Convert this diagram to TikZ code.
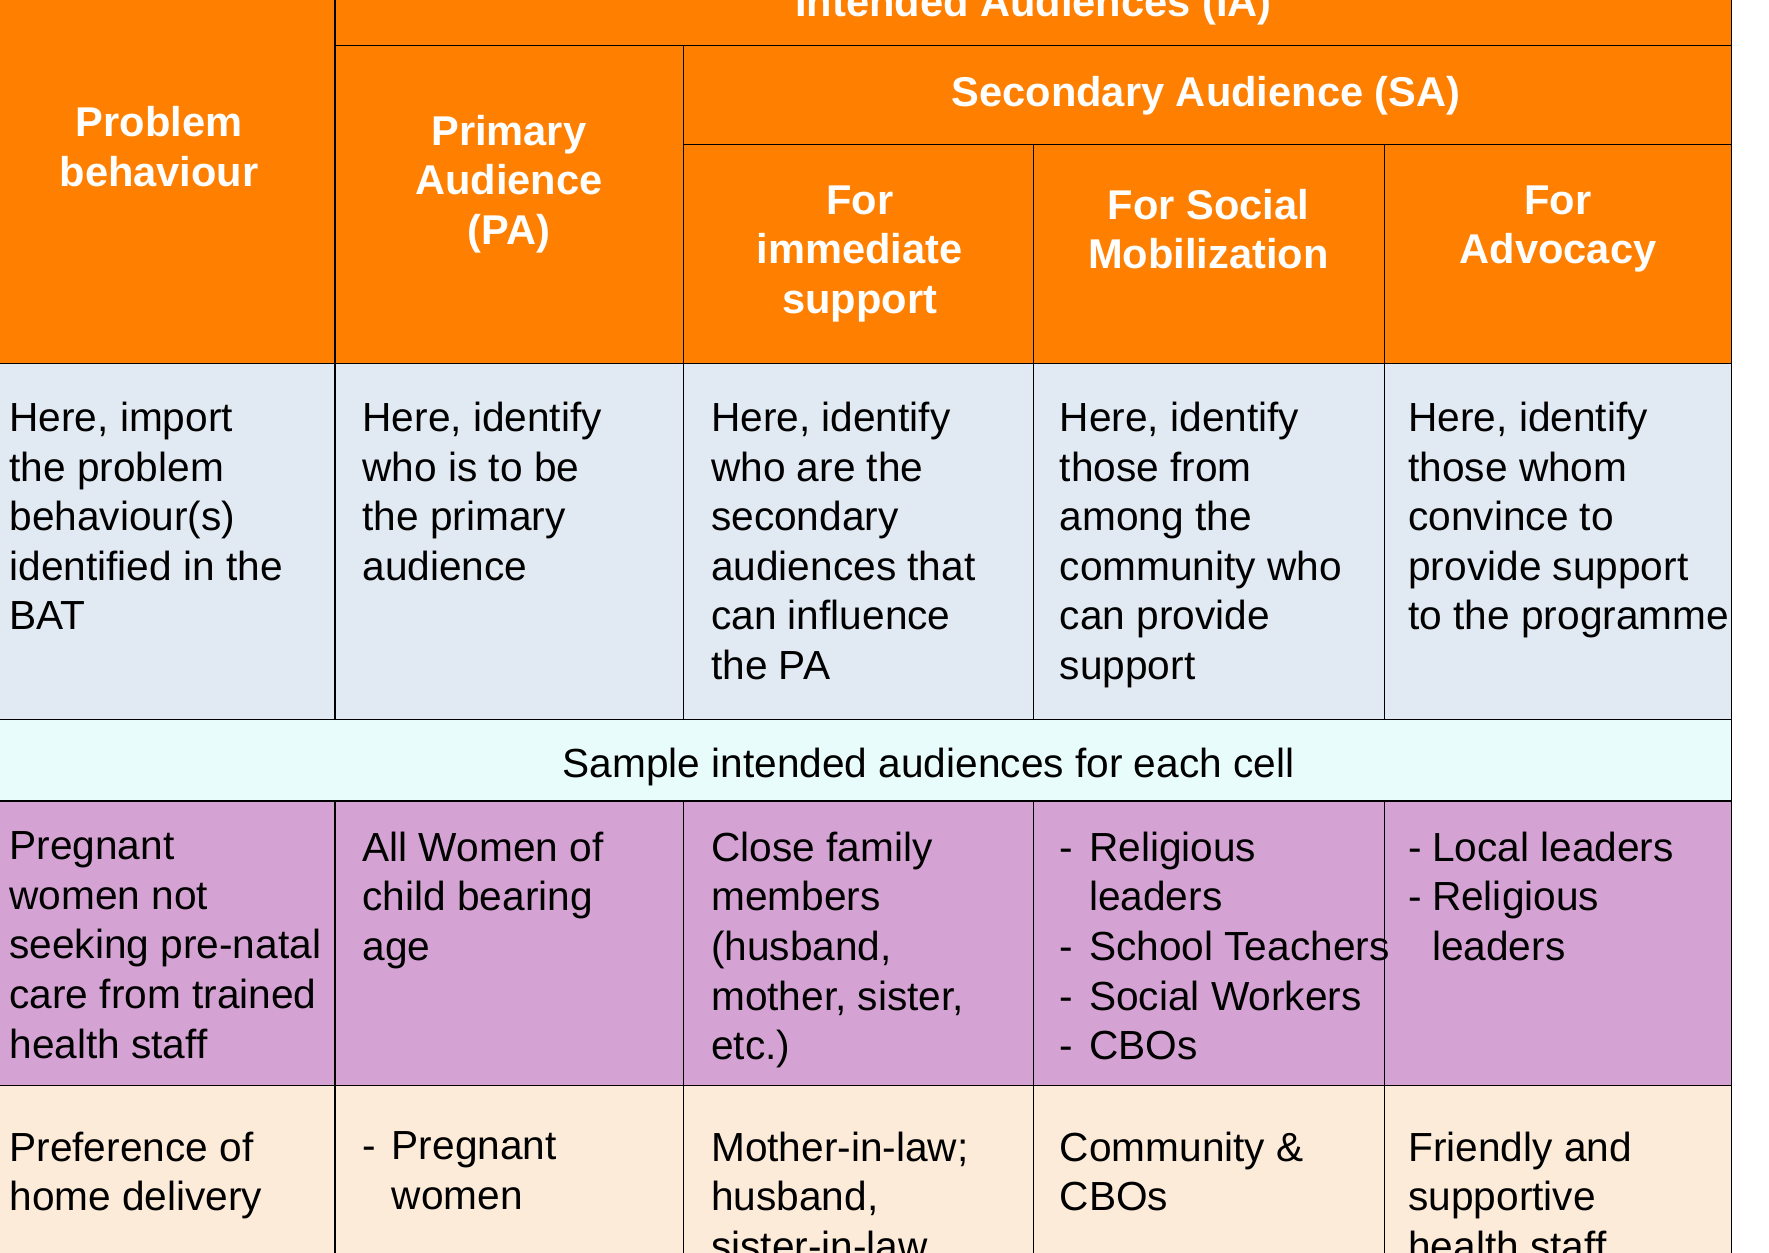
\documentclass[tikz,border=0pt]{standalone}
\usepackage{fontspec}
\setmainfont{Liberation Sans}
\definecolor{hdr}{HTML}{FF7F00}
\definecolor{lblue}{HTML}{E1EAF2}
\definecolor{lcyan}{HTML}{E8FCFB}
\definecolor{purp}{HTML}{D5A3D3}
\definecolor{peach}{HTML}{FDEBD9}
\newcommand{\dsh}{\makebox[0.52cm][l]{-}}
\newcommand{\ind}{\hspace*{0.52cm}}
\tikzset{
 cell/.style={draw=black,line width=0.6pt},
 hd/.style={font=\fontsize{21}{25}\selectfont\bfseries,text=white,align=center,inner sep=0pt},
 bd/.style={font=\fontsize{20.5}{25}\selectfont,align=left,anchor=north west,inner sep=0pt},
}
\begin{document}
\begin{tikzpicture}[x=0.02cm,y=-0.02cm]
\useasboundingbox (0,0) rectangle (1568,1110);
\begin{scope}
\clip (0,0) rectangle (1568,1110);
\fill[hdr] (0,-60) rectangle (1535,322);
\fill[lblue] (0,322) rectangle (1535,638);
\fill[lcyan] (0,638) rectangle (1535,710);
\fill[purp] (0,710) rectangle (1535,962);
\fill[peach] (0,962) rectangle (1535,1200);
\draw[cell] (297,-60) -- (297,638);
\draw[cell] (297,40) -- (1535,40);
\draw[cell] (606,40) -- (606,638);
\draw[cell] (606,128) -- (1535,128);
\draw[cell] (916,128) -- (916,638);
\draw[cell] (1227,128) -- (1227,638);
\draw[cell] (1535,-60) -- (1535,1200);
\draw[cell] (0,322) -- (1535,322);
\draw[cell] (0,638) -- (1535,638);
\draw[cell] (0,710) -- (1535,710);
\draw[cell] (0,962) -- (1535,962);
\foreach \x in {297,606,916,1227} \draw[cell] (\x,710) -- (\x,1200);
\node[hd] (ia) at (916,5) {Intended Audiences (IA)};
\node[hd] (pb) at (141,130) {Problem\\behaviour};
\node[hd] (pa) at (451,163) {Primary\\Audience\\(PA)};
\node[hd] (sa) at (1069,85) {Secondary Audience (SA)};
\node[hd] (fi) at (762,225) {For\\immediate\\support};
\node[hd] (fs) at (1071,203) {For Social\\Mobilization};
\node[hd] (fa) at (1381,203) {For\\Advocacy};
\node[bd] (r1a) at (8,356) {Here, import\\the problem\\behaviour(s)\\identified in the\\BAT};
\node[bd] (r1b) at (321,356) {Here, identify\\who is to be\\the primary\\audience};
\node[bd] (r1c) at (630,356) {Here, identify\\who are the\\secondary\\audiences that\\can influence\\the PA};
\node[bd] (r1d) at (939,356) {Here, identify\\those from\\among the\\community who\\can provide\\support};
\node[bd] (r1e) at (1248,356) {Here, identify\\those whom\\convince to\\provide support\\to the programme};
\node[font=\fontsize{20.5}{25}\selectfont,inner sep=0pt] (smp) at (823,680) {Sample intended audiences for each cell};
\node[bd] (r2a) at (8,737) {Pregnant\\women not\\seeking pre-natal\\care from trained\\health staff};
\node[bd] (r2b) at (321,737) {All Women of\\child bearing\\age};
\node[bd] (r2c) at (630,737) {Close family\\members\\(husband,\\mother, sister,\\etc.)};
\node[bd] (r2d) at (939,737) {\dsh Religious\\\ind leaders\\\dsh School Teachers\\\dsh Social Workers\\\dsh CBOs};
\node[bd] (r2e) at (1248,737) {\makebox[0.42cm][l]{-}Local leaders\\\makebox[0.42cm][l]{-}Religious\\\hspace*{0.42cm}leaders};
\node[bd] (r3a) at (8,1003) {Preference of\\home delivery};
\node[bd] (r3b) at (321,1003) {\dsh Pregnant\\\ind women};
\node[bd] (r3c) at (630,1003) {Mother-in-law;\\husband,\\sister-in-law};
\node[bd] (r3d) at (939,1003) {Community \&\\CBOs};
\node[bd] (r3e) at (1248,1003) {Friendly and\\supportive\\health staff};
\end{scope}
\end{tikzpicture}
\end{document}
